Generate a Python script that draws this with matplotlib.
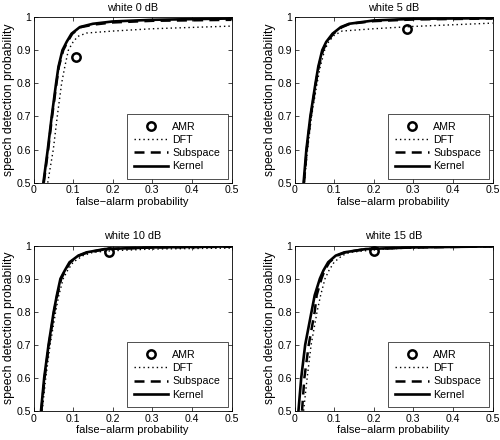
import matplotlib
matplotlib.use("Agg")
import matplotlib.pyplot as plt

plt.rcParams['font.family'] = ['Liberation Sans', 'DejaVu Sans']

titles = ["white 0 dB", "white 5 dB", "white 10 dB", "white 15 dB"]

# Kernel
kernel_fa = [
    [0.025, 0.036, 0.046, 0.057, 0.063, 0.073, 0.084, 0.096, 0.117, 0.150, 0.200, 0.300, 0.500],
    [0.023, 0.030, 0.040, 0.053, 0.060, 0.070, 0.080, 0.096, 0.117, 0.138, 0.200, 0.300, 0.500],
    [0.019, 0.027, 0.038, 0.051, 0.059, 0.068, 0.079, 0.091, 0.113, 0.134, 0.180, 0.300, 0.500],
    [0.010, 0.017, 0.027, 0.043, 0.051, 0.064, 0.073, 0.085, 0.104, 0.126, 0.180, 0.300, 0.500],
]
kernel_pd = [
    [0.50, 0.60, 0.70, 0.80, 0.85, 0.90, 0.926, 0.950, 0.970, 0.980, 0.987, 0.992, 0.996],
    [0.50, 0.60, 0.70, 0.80, 0.85, 0.90, 0.925, 0.950, 0.970, 0.980, 0.990, 0.995, 0.997],
    [0.50, 0.60, 0.70, 0.80, 0.85, 0.90, 0.925, 0.950, 0.970, 0.980, 0.990, 0.995, 0.998],
    [0.50, 0.60, 0.70, 0.80, 0.85, 0.90, 0.925, 0.950, 0.970, 0.980, 0.990, 0.995, 0.998],
]

# Subspace
subspace_fa = [
    [0.026, 0.037, 0.047, 0.058, 0.064, 0.075, 0.086, 0.098, 0.120, 0.155, 0.200, 0.300, 0.500],
    [0.024, 0.031, 0.041, 0.054, 0.061, 0.072, 0.082, 0.098, 0.120, 0.140, 0.200, 0.300, 0.500],
    [0.020, 0.028, 0.039, 0.052, 0.060, 0.070, 0.080, 0.093, 0.115, 0.137, 0.185, 0.300, 0.500],
    [0.019, 0.025, 0.036, 0.051, 0.056, 0.068, 0.076, 0.088, 0.107, 0.128, 0.180, 0.300, 0.500],
]
subspace_pd = [
    [0.50, 0.60, 0.70, 0.80, 0.85, 0.90, 0.926, 0.950, 0.970, 0.978, 0.984, 0.989, 0.992],
    [0.50, 0.60, 0.70, 0.80, 0.85, 0.90, 0.925, 0.950, 0.970, 0.980, 0.988, 0.993, 0.996],
    [0.50, 0.60, 0.70, 0.80, 0.85, 0.90, 0.925, 0.950, 0.970, 0.980, 0.990, 0.995, 0.997],
    [0.50, 0.60, 0.70, 0.80, 0.85, 0.90, 0.925, 0.950, 0.970, 0.980, 0.990, 0.995, 0.998],
]

# DFT
dft_fa = [
    [0.036, 0.050, 0.060, 0.071, 0.079, 0.088, 0.100, 0.112, 0.134, 0.200, 0.300, 0.500],
    [0.025, 0.033, 0.043, 0.057, 0.065, 0.076, 0.086, 0.100, 0.120, 0.200, 0.300, 0.500],
    [0.022, 0.031, 0.042, 0.056, 0.064, 0.075, 0.086, 0.100, 0.125, 0.150, 0.200, 0.300, 0.500],
    [0.023, 0.032, 0.042, 0.057, 0.066, 0.077, 0.087, 0.100, 0.120, 0.140, 0.220, 0.350, 0.500],
]
dft_pd = [
    [0.50, 0.60, 0.70, 0.80, 0.85, 0.90, 0.925, 0.942, 0.952, 0.958, 0.965, 0.973],
    [0.50, 0.60, 0.70, 0.80, 0.85, 0.90, 0.925, 0.945, 0.958, 0.965, 0.972, 0.982],
    [0.50, 0.60, 0.70, 0.80, 0.85, 0.90, 0.925, 0.950, 0.970, 0.980, 0.985, 0.990, 0.993],
    [0.50, 0.60, 0.70, 0.80, 0.85, 0.90, 0.925, 0.950, 0.970, 0.980, 0.990, 0.995, 0.997],
]

# AMR operating points
amr_fa = [0.108, 0.283, 0.190, 0.200]
amr_pd = [0.880, 0.963, 0.980, 0.985]

xticks = [0, 0.1, 0.2, 0.3, 0.4, 0.5]
yticks = [0.5, 0.6, 0.7, 0.8, 0.9, 1.0]
xticklabels = ["0", "0.1", "0.2", "0.3", "0.4", "0.5"]
yticklabels = ["0.5", "0.6", "0.7", "0.8", "0.9", "1"]

fig = plt.figure(figsize=(5.0, 4.4), dpi=100)
positions = [
    [0.067, 0.585, 0.396, 0.376],
    [0.589, 0.585, 0.396, 0.376],
    [0.067, 0.0665, 0.396, 0.375],
    [0.589, 0.0665, 0.396, 0.375],
]

for i in range(4):
    ax = fig.add_axes(positions[i])
    ax.plot(amr_fa[i], amr_pd[i], 'o', mfc='none', mec='black', mew=1.8,
            ms=6.0, label='AMR')
    ax.plot(dft_fa[i], dft_pd[i], color='black', lw=1.0, ls=(0, (1, 2.2)),
            label='DFT')
    ax.plot(subspace_fa[i], subspace_pd[i], color='black', lw=1.8,
            ls=(0, (4, 2.5)), label='Subspace')
    ax.plot(kernel_fa[i], kernel_pd[i], color='black', lw=1.9, ls='-',
            label='Kernel')
    ax.set_xlim(0, 0.5)
    ax.set_ylim(0.5, 1.0)
    ax.set_xticks(xticks)
    ax.set_xticklabels(xticklabels)
    ax.set_yticks(yticks)
    ax.set_yticklabels(yticklabels)
    ax.tick_params(direction='in', top=True, right=True, length=3,
                   width=0.5, labelsize=7.6, pad=2)
    for sp in ax.spines.values():
        sp.set_linewidth(0.6)
    ax.set_title(titles[i], fontsize=7.8, pad=4.5)
    ax.set_xlabel('false\u2212alarm probability', fontsize=8, labelpad=1)
    ax.set_ylabel('speech detection probability', fontsize=8.8, labelpad=1)
    leg = ax.legend(loc='lower right', fontsize=7.7, frameon=True,
                    fancybox=False, edgecolor='black', handlelength=3.1,
                    borderaxespad=0.35, labelspacing=0.3, handletextpad=0.45,
                    borderpad=0.7)
    leg.get_frame().set_linewidth(0.6)

fig.savefig('out.png', dpi=100)
